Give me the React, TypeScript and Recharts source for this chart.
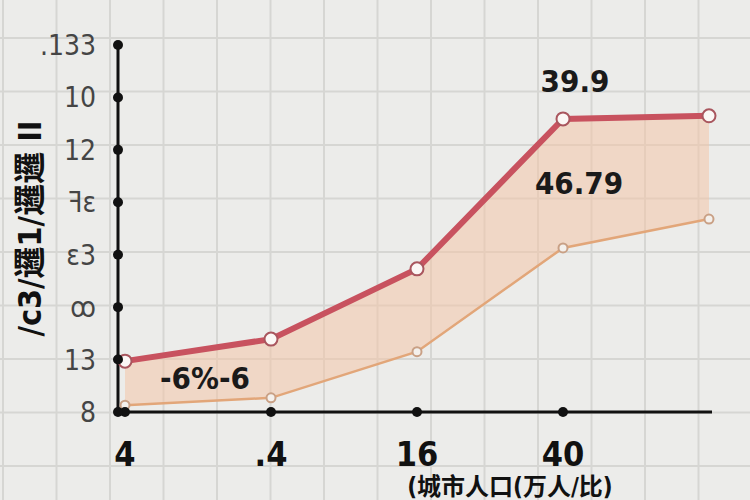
import {
  Area,
  ComposedChart,
  LabelList,
  Line,
  XAxis,
  YAxis,
} from "recharts";

// x categories (last point has no label in the source)
const categories = ["4", ".4", "16", "40", ""];
// upper (red) and lower (orange) series
const upperValues = [0.97, 1.39, 2.73, 5.59, 5.65];
const lowerValues = [0.13, 0.27, 1.15, 3.13, 3.68];
// labels printed on the chart
const upperNotes = ["", "", "", "39.9", ""];
const lowerNotes = ["-6%-6", "", "", "46.79", ""];
// y tick labels, bottom to top (garbled in the original)
const yTicks = [0, 1, 2, 3, 4, 5, 6, 7];
const yTickLabels = ["8", "13", "ꝏ", "ɛ3", "ꟻɛ", "12", "10", ".133"];
const yTitle = "/c3/邏1/邏邏 II";
const xTitle = "(城市人口(万人/比)";

const FONT =
  "'Liberation Sans Narrow', 'DejaVu Sans Condensed', 'Noto Sans CJK SC', sans-serif";

const data = categories.map((name, i) => ({
  name,
  high: upperValues[i],
  low: lowerValues[i],
  range: [lowerValues[i], upperValues[i]],
  upperNote: upperNotes[i],
  lowerNote: lowerNotes[i],
}));

const XTick = (props: any) => {
  const { x, y, payload } = props;
  return (
    <g>
      {payload.value !== "" && <circle cx={x} cy={y} r={5} fill="#111" />}
      <text
        x={x}
        y={y + 54}
        textAnchor="middle"
        fontSize={34}
        fontWeight="bold"
        fontFamily={FONT}
        fill="#111"
      >
        {payload.value}
      </text>
    </g>
  );
};

const YTick = (props: any) => {
  const { x, y, payload } = props;
  return (
    <g>
      <circle cx={x} cy={y} r={5} fill="#111" />
      <text
        x={x - 22}
        y={y + 10}
        textAnchor="end"
        fontSize={28}
        fontFamily={FONT}
        fill="#454545"
      >
        {yTickLabels[payload.value]}
      </text>
    </g>
  );
};

const UpperNote = (props: any) => {
  const { x, y, value } = props;
  if (!value) return null;
  return (
    <text
      x={x + 12}
      y={y - 27}
      textAnchor="middle"
      fontSize={31}
      fontWeight="bold"
      fontFamily={FONT}
      fill="#1a1a1a"
    >
      {value}
    </text>
  );
};

const LowerNote = (props: any) => {
  const { x, y, value, index } = props;
  if (!value) return null;
  const dx = index === 0 ? 80 : 16;
  const dy = index === 0 ? -16 : -54;
  return (
    <text
      x={x + dx}
      y={y + dy}
      textAnchor="middle"
      fontSize={31}
      fontWeight="bold"
      fontFamily={FONT}
      fill="#1a1a1a"
    >
      {value}
    </text>
  );
};

export default function App() {
  return (
    <div
      style={{
        position: "absolute",
        left: 0,
        top: 0,
        width: 750,
        height: 500,
        overflow: "hidden",
        backgroundColor: "#ececea",
        backgroundImage:
          "linear-gradient(to right, #d6d6d3 1.5px, transparent 1.5px), linear-gradient(to bottom, #d6d6d3 1.5px, transparent 1.5px)",
        backgroundSize: "53.5px 53.5px",
        backgroundPosition: "2px 37px",
      }}
    >
      <ComposedChart
        width={750}
        height={500}
        data={data}
        margin={{ top: 45, right: 38, bottom: 0, left: 0 }}
      >
        <XAxis
          dataKey="name"
          scale="point"
          padding={{ left: 7, right: 3 }}
          height={88}
          axisLine={{ stroke: "#111", strokeWidth: 3 }}
          tickLine={false}
          tickSize={0}
          tickMargin={0}
          tick={<XTick />}
          interval={0}
          label={{
            value: xTitle,
            content: () => (
              <text
                x={510}
                y={495}
                textAnchor="middle"
                fontSize={24}
                fontWeight="bold"
                fontFamily={FONT}
                fill="#111"
              >
                {xTitle}
              </text>
            ),
          }}
        />
        <YAxis
          type="number"
          domain={[0, 7]}
          ticks={yTicks}
          width={118}
          axisLine={{ stroke: "#111", strokeWidth: 3 }}
          tickLine={false}
          tickSize={0}
          tickMargin={0}
          tick={<YTick />}
          interval={0}
          label={{
            value: yTitle,
            angle: -90,
            position: "insideLeft",
            offset: 30,
            style: {
              fontSize: 32,
              fontWeight: "bold",
              fontFamily: FONT,
              fill: "#111",
              textAnchor: "middle",
            },
          }}
        />
        <Area
          dataKey="range"
          type="linear"
          stroke="none"
          fill="#f4c6a8"
          fillOpacity={0.55}
          isAnimationActive={false}
        />
        <Line
          dataKey="low"
          type="linear"
          stroke="#e2a679"
          strokeWidth={2.5}
          dot={{ r: 4.5, fill: "#f4f0ec", stroke: "#c9a085", strokeWidth: 2 }}
          isAnimationActive={false}
        >
          <LabelList dataKey="lowerNote" content={<LowerNote />} />
        </Line>
        <Line
          dataKey="high"
          type="linear"
          stroke="#c8525f"
          strokeWidth={6}
          dot={{ r: 6.5, fill: "#fbf7f5", stroke: "#a9565e", strokeWidth: 2 }}
          isAnimationActive={false}
        >
          <LabelList dataKey="upperNote" content={<UpperNote />} />
        </Line>
      </ComposedChart>
    </div>
  );
}
